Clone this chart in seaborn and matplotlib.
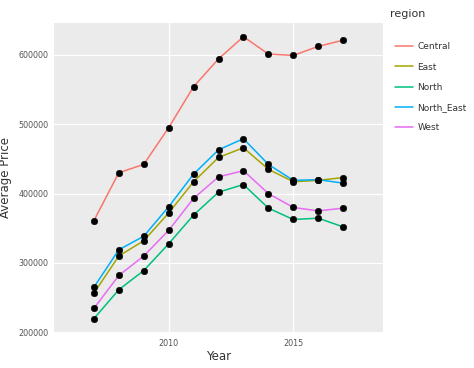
import pandas as pd
import matplotlib
matplotlib.use("Agg")
import matplotlib.pyplot as plt
import seaborn as sns

years = [2007, 2008, 2009, 2010, 2011, 2012, 2013, 2014, 2015, 2016, 2017]
regions = ["Central", "East", "North", "North_East", "West"]
central = [361000, 430000, 442000, 495000, 554000, 594000, 626000, 601000, 599000, 612000, 621000]
east = [256500, 310000, 332000, 372000, 417000, 452000, 466000, 435000, 417000, 419000, 423000]
north = [219700, 261500, 289000, 327600, 369000, 402000, 413000, 379000, 362600, 364500, 352000]
north_east = [265000, 319000, 338500, 381000, 428000, 463000, 479000, 442000, 419000, 420000, 415000]
west = [234500, 282000, 310000, 347000, 393000, 424000, 433000, 400000, 380000, 375000, 379000]

colors = ["#F8766D", "#A3A500", "#00BF7D", "#00B0F6", "#E76BF3"]

series = [central, east, north, north_east, west]
df = pd.concat(
    [pd.DataFrame({"Year": years, "Average Price": vals, "region": r})
     for r, vals in zip(regions, series)],
    ignore_index=True,
)

sns.set_style("darkgrid", {"axes.facecolor": "#EBEBEB", "grid.color": "white"})
plt.rcParams['font.family'] = ['DejaVu Sans']

fig = plt.figure(figsize=(4.74, 3.68), dpi=100)
ax = fig.add_axes([0.114, 0.095, 0.694, 0.843])

sns.lineplot(data=df, x="Year", y="Average Price", hue="region", palette=colors,
             linewidth=1.1, ax=ax, legend=False)
sns.scatterplot(data=df, x="Year", y="Average Price", color="black", s=22,
                edgecolor="black", zorder=5, ax=ax, legend=False)

ax.set_xlim(2005.4, 2018.6)
ax.set_ylim(199000, 646000)
ax.set_xticks([2010, 2015])
ax.set_yticks([200000, 300000, 400000, 500000, 600000])
ax.set_yticklabels(["200000", "300000", "400000", "500000", "600000"])
ax.tick_params(labelsize=5.8, colors="#555555", length=2, width=0.6, pad=2)
ax.tick_params(axis="both", which="both", color="#888888")
ax.set_xlabel("Year", fontsize=8.5, color="#333333", labelpad=2)
ax.set_ylabel("Average Price", fontsize=8.5, color="#333333")
ax.yaxis.set_label_coords(-0.128, 0.5)
ax.grid(True, color="white", linewidth=0.9)
for s in ax.spines.values():
    s.set_visible(False)

fig.text(0.822, 0.962, "region", fontsize=8, color="#333333", va="center")
handles = [plt.Line2D([], [], color=c, linewidth=1.1) for c in colors]
leg = fig.legend(handles, regions, loc="upper left",
                 bbox_to_anchor=(0.825, 0.895), frameon=False, fontsize=6.5,
                 handlelength=2.0, labelspacing=1.25, handletextpad=0.5,
                 borderaxespad=0)
for t in leg.get_texts():
    t.set_color("#333333")

fig.savefig("out.png", dpi=100, facecolor="white")
